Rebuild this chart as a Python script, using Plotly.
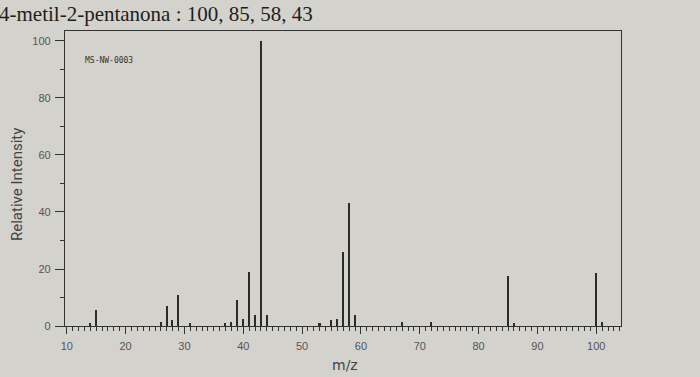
import plotly.graph_objects as go

# --- data ---
mz = [14, 15, 26, 27, 28, 29, 31, 37, 38, 39, 40, 41, 42, 43, 44,
      53, 55, 56, 57, 58, 59, 67, 72, 85, 86, 100, 101]
intensity = [1, 5.5, 1.5, 7, 2, 11, 1, 1, 1.5, 9, 2.5, 19, 4, 100, 4,
             1, 2, 2.5, 26, 43, 4, 1.5, 1.5, 17.5, 1.2, 18.5, 1.5]

x_ticks = [10, 20, 30, 40, 50, 60, 70, 80, 90, 100]
y_ticks = [0, 20, 40, 60, 80, 100]

title_text = "4-metil-2-pentanona : 100, 85, 58, 43"
code_text = "MS-NW-0003"
y_title = "Relative Intensity"
x_title = "m/z"

W, H = 700, 377
L, R, T, B = 65, 79, 31, 51
pw, ph = W - L - R, H - T - B

def px(xp):
    return (xp - L) / pw

def py(yp):
    return 1 - (yp - T) / ph

bg = "#d4d2cd"
ink = "#2b2b2b"

fig = go.Figure()
fig.add_trace(go.Bar(x=mz, y=intensity, width=0.26,
                     marker=dict(color=ink, line=dict(width=0)),
                     hoverinfo="x+y"))

fig.update_layout(
    width=W, height=H,
    margin=dict(l=L, r=R, t=T, b=B),
    paper_bgcolor=bg, plot_bgcolor=bg,
    showlegend=False,
    bargap=0,
    font=dict(family="Liberation Sans, Arial, sans-serif", color="#555"),
)

fig.update_xaxes(
    range=[9.7, 104.2], tickvals=x_ticks,
    showline=True, linecolor="#333", linewidth=1.3, mirror=True,
    ticks="outside", ticklen=7, tickcolor="#333", tickwidth=1.2,
    minor=dict(dtick=1, tick0=0, ticks="outside", ticklen=4,
               tickcolor="#333", tickwidth=1),
    showgrid=False, zeroline=False,
    tickfont=dict(size=11, color="#555"),
    ticklabelstandoff=3,
)
fig.update_yaxes(
    range=[0, 103.5], tickvals=y_ticks,
    showline=True, linecolor="#333", linewidth=1.3, mirror=True,
    ticks="outside", ticklen=9, tickcolor="#333", tickwidth=1.2,
    minor=dict(dtick=10, tick0=0, ticks="outside", ticklen=4,
               tickcolor="#333", tickwidth=1),
    showgrid=False, zeroline=False,
    tickfont=dict(size=11, color="#555"),
    ticklabelstandoff=2,
)

fig.add_annotation(text=title_text, xref="paper", yref="paper",
                   x=px(-3), y=py(14), xanchor="left", yanchor="middle",
                   showarrow=False,
                   font=dict(family="Liberation Serif, Times New Roman, serif",
                             size=21, color="#1e1e1e"))
fig.add_annotation(text=code_text, xref="paper", yref="paper",
                   x=px(109), y=py(60), xanchor="center", yanchor="middle",
                   showarrow=False,
                   font=dict(family="DejaVu Sans Mono, monospace",
                             size=8, color="#333"))
fig.add_annotation(text=y_title, xref="paper", yref="paper",
                   x=px(17), y=py(185), xanchor="center", yanchor="middle",
                   textangle=-90, showarrow=False,
                   font=dict(family="Liberation Sans Narrow, Arial Narrow, Roboto, sans-serif",
                             size=15, color="#444"))
fig.add_annotation(text=x_title, xref="paper", yref="paper",
                   x=px(345), y=py(365), xanchor="center", yanchor="middle",
                   showarrow=False,
                   font=dict(family="DejaVu Sans, sans-serif",
                             size=14, color="#444"))

fig.write_html("out.html")
